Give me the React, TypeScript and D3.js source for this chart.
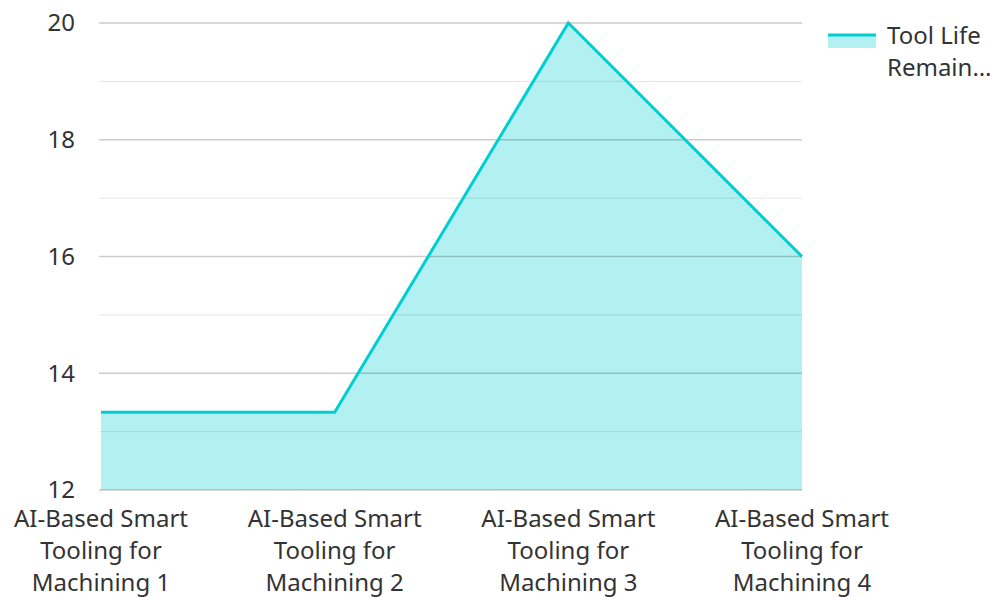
import React from 'react';
import * as d3 from 'd3';

const categories = [
  'AI-Based Smart Tooling for Machining 1',
  'AI-Based Smart Tooling for Machining 2',
  'AI-Based Smart Tooling for Machining 3',
  'AI-Based Smart Tooling for Machining 4',
];
const toolLife = [13.33, 13.33, 20, 16];
const yTicks = [12, 14, 16, 18, 20];
const yMinorTicks = [13, 15, 17, 19];
const seriesName = 'Tool Life Remaining';

const width = 994;
const height = 597;
const margin = { top: 23, right: 192, bottom: 107, left: 101 };
const color = '#00CED1';
const font = '"Noto Sans", "Open Sans", sans-serif';
const fontSize = 24;

function wrapLabel(label: string): string[] {
  // "AI-Based Smart" / "Tooling for" / "Machining N"
  const words = label.split(' ');
  return [words.slice(0, 2).join(' '), words.slice(2, 4).join(' '), words.slice(4).join(' ')];
}

export default function App() {
  const x = d3
    .scalePoint<string>()
    .domain(categories)
    .range([margin.left, width - margin.right]);
  const y = d3
    .scaleLinear()
    .domain([12, 20])
    .range([height - margin.bottom, margin.top]);

  const data = categories.map((c, i) => ({ c, v: toolLife[i] }));

  const area = d3
    .area<{ c: string; v: number }>()
    .x((d) => x(d.c)!)
    .y0(y(12))
    .y1((d) => y(d.v));
  const line = d3
    .line<{ c: string; v: number }>()
    .x((d) => x(d.c)!)
    .y((d) => y(d.v));

  const x0 = margin.left;
  const x1 = width - margin.right;

  return (
    <svg
      width={width}
      height={height}
      style={{ position: 'absolute', left: 0, top: 0 }}
      fontFamily={font}
    >
      <path d={area(data)!} fill={color} fillOpacity={0.3} />
      {yMinorTicks.map((t) => (
        <line key={'m' + t} x1={x0 - 2} x2={x1} y1={y(t)} y2={y(t)} stroke="#000" strokeOpacity={0.1} strokeWidth={1} />
      ))}
      {yTicks.map((t) => (
        <line key={'g' + t} x1={x0 - 2} x2={x1} y1={y(t)} y2={y(t)} stroke="#000" strokeOpacity={0.2} strokeWidth={1.3} />
      ))}
      <path d={line(data)!} fill="none" stroke={color} strokeWidth={3} strokeLinejoin="miter" />
      {yTicks.map((t) => (
        <text key={'t' + t} x={75} y={y(t)} dy="0.35em" textAnchor="end" fontSize={fontSize} fill="#333">
          {t}
        </text>
      ))}
      {categories.map((c) => (
        <text key={c} x={x(c)} y={519} textAnchor="middle" fontSize={fontSize} fill="#333">
          {wrapLabel(c).map((l, i) => (
            <tspan key={i} x={x(c)} dy={i === 0 ? '0.35em' : 32}>
              {l}
            </tspan>
          ))}
        </text>
      ))}
      <g>
        <rect x={828} y={34} width={48} height={14} fill={color} fillOpacity={0.3} />
        <line x1={828} x2={876} y1={35} y2={35} stroke={color} strokeWidth={3} />
        <text x={887} y={36} dy="0.35em" fontSize={fontSize} fill="#333">
          Tool Life
        </text>
        <text x={887} y={68} dy="0.35em" fontSize={fontSize} fill="#333">
          Remain…
        </text>
      </g>
      <title>{seriesName}</title>
    </svg>
  );
}
